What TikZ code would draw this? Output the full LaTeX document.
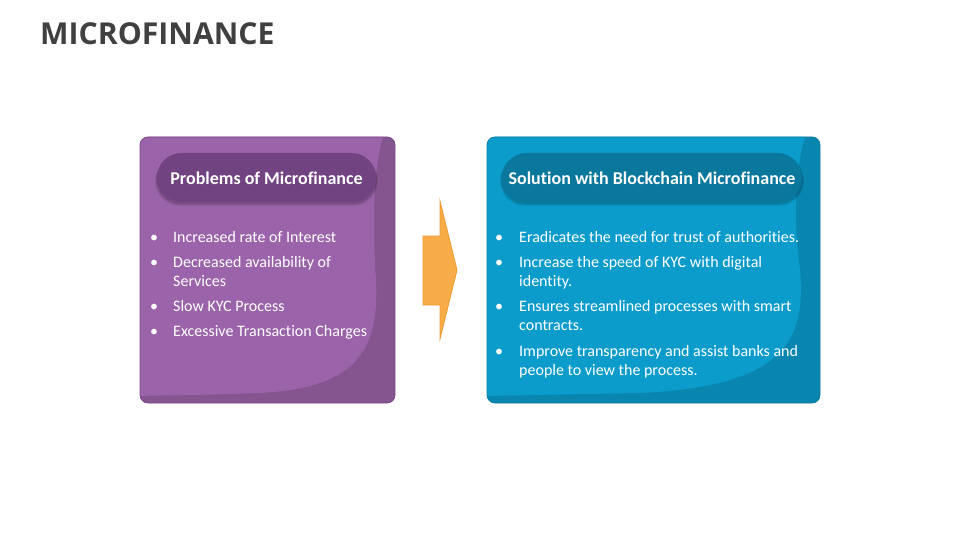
\documentclass[tikz,border=0pt]{standalone}
\usepackage{fontspec}
\setmainfont{Carlito}[Ligatures=NoCommon]
\newfontfamily\titlefont{Open Sans}
\definecolor{purpmain}{HTML}{9B63A9}
\definecolor{purpdark}{HTML}{85558F}
\definecolor{purppill}{HTML}{724381}
\definecolor{purpline}{HTML}{7A4A88}
\definecolor{bluemain}{HTML}{0B9CCB}
\definecolor{bluedark}{HTML}{0986B0}
\definecolor{bluepill}{HTML}{0A789C}
\definecolor{blueline}{HTML}{0A7EA6}
\definecolor{arrfill}{HTML}{F8AC48}
\definecolor{arrline}{HTML}{F29A2E}
\definecolor{titlegray}{HTML}{404040}
\tikzset{
  bul/.style={anchor=base west, inner sep=0pt, text=white, align=left,
    font=\fontsize{16}{19.5}\selectfont},
  dot/.style={anchor=base, inner sep=0pt, text=white, font=\fontsize{16}{19.5}\selectfont},
  pilltext/.style={anchor=base, inner sep=0pt, text=white, font=\bfseries\fontsize{18}{22}\selectfont},
}
\begin{document}
\begin{tikzpicture}[x=1pt,y=-1pt]
\useasboundingbox (0,0) rectangle (960,540);
\fill[white] (0,0) rectangle (960,540);
% title
\node[anchor=base west, inner sep=0pt, text=titlegray, font=\titlefont\bfseries\fontsize{30.2}{36}\selectfont] (title) at (40,45) {MICROFINANCE};

% left box
\fill[purpdark, rounded corners=8] (140,137) rectangle (395,403);
\begin{scope}
\clip[rounded corners=8] (140,137) rectangle (395,403);
\fill[purpmain] (130,130) -- (383,130) -- (383,137) .. controls (372,175) and (373,230) .. (376,280)
  .. controls (379,345) and (362,388) .. (260,393) .. controls (200,395) .. (130,396) -- cycle;
\end{scope}
\draw[purpline, line width=0.8pt, rounded corners=8] (140,137) rectangle (395,403);
% pill shadow
\foreach \o/\a in {4/0.06,3/0.08,2/0.10}{
  \fill[black, opacity=\a, rounded corners=24.5] (157-\o/2,153+\o) rectangle (376+\o/2,202+\o);
}
\fill[purppill, rounded corners=24.5] (157,153) rectangle (376,202);
\node[pilltext] (lhead) at (266.5,184) {Problems of Microfinance};
\node[dot] (ld1) at (154,242) {•};
\node[bul] (lt1) at (173,242) {Increased rate of Interest};
\node[dot] (ld2) at (154,267) {•};
\node[bul] (lt2) at (173,286.5) {Decreased availability of\\Services};
\node[dot] (ld3) at (154,311) {•};
\node[bul] (lt3) at (173,311) {Slow KYC Process};
\node[dot] (ld4) at (154,336) {•};
\node[bul] (lt4) at (173,336) {Excessive Transaction Charges};

% arrow
\draw[fill=arrfill, draw=arrline, line width=0.8pt, line join=miter]
  (423,236) -- (440,236) -- (440,201) -- (457,270) -- (440,339) -- (440,305) -- (423,305) -- cycle;

% right box
\fill[bluedark, rounded corners=8] (487,137) rectangle (820,403);
\begin{scope}
\clip[rounded corners=8] (487,137) rectangle (820,403);
\fill[bluemain] (480,130) -- (805,130) -- (805,137) .. controls (792,180) and (795,230) .. (800,270)
  .. controls (805,335) and (792,386) .. (640,393) .. controls (560,395) .. (480,396) -- cycle;
\end{scope}
\draw[blueline, line width=0.8pt, rounded corners=8] (487,137) rectangle (820,403);
\foreach \o/\a in {4/0.06,3/0.08,2/0.10}{
  \fill[black, opacity=\a, rounded corners=24.5] (502-\o/2,153+\o) rectangle (802+\o/2,202+\o);
}
\fill[bluepill, rounded corners=24.5] (502,153) rectangle (802,202);
\node[pilltext] (rhead) at (652,184) {Solution with Blockchain Microfinance};
\node[dot] (rd1) at (499,242) {•};
\node[bul] (rt1) at (519,242) {Eradicates the need for trust of authorities.};
\node[dot] (rd2) at (499,267) {•};
\node[bul] (rt2) at (519,286.5) {Increase the speed of KYC with digital\\identity.};
\node[dot] (rd3) at (499,311) {•};
\node[bul] (rt3) at (519,330.5) {Ensures streamlined processes with smart\\contracts.};
\node[dot] (rd4) at (499,356) {•};
\node[bul] (rt4) at (519,375.5) {Improve transparency and assist banks and\\people to view the process.};
\end{tikzpicture}
\end{document}
